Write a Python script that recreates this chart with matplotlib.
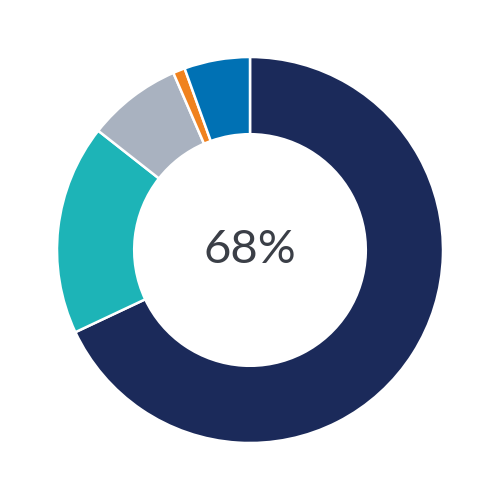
import matplotlib
matplotlib.use("Agg")
import matplotlib.pyplot as plt

labels = ["Navy", "Teal", "Gray", "Orange", "Blue"]
values = [68, 17.6, 7.9, 1.0, 5.5]
colors = ["#1b2a5a", "#1db4b7", "#a9b2c0", "#f0821e", "#0071b4"]
center_text = "68%"

fig = plt.figure(figsize=(5, 5), dpi=100)
ax = fig.add_axes([0, 0, 1, 1])

ax.pie(values, colors=colors, startangle=90, counterclock=False,
       radius=1.0,
       wedgeprops=dict(width=0.4, edgecolor="white", linewidth=1.8))

ax.text(0, 0, center_text, ha="center", va="center", fontsize=34,
        family="Lato", color="#3b3f47")

lim = 250 / 193
ax.set_xlim(-lim, lim)
ax.set_ylim(-lim, lim)
ax.set_aspect("equal")
ax.axis("off")

fig.savefig("out.png", dpi=100, facecolor="white")
